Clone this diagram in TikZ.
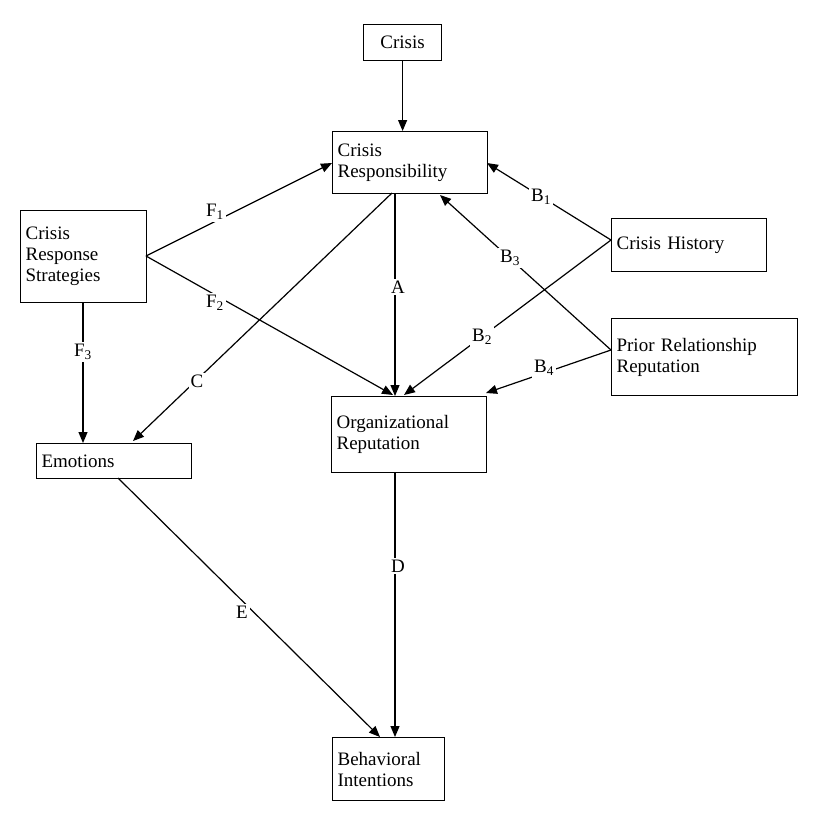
\documentclass[tikz,border=0pt]{standalone}
\usepackage{fontspec}
\setmainfont{Liberation Serif}
\usetikzlibrary{arrows.meta}
\begin{document}
\begin{tikzpicture}[x=1pt,y=-1pt,
  box/.style={draw,line width=1.2pt,anchor=north west,align=left,inner sep=5pt,font=\fontsize{19}{21}\selectfont},
  lab/.style={fill=white,inner sep=2pt,font=\fontsize{19}{21}\selectfont},
  arr/.style={line width=1.2pt,-{Triangle[length=11pt,width=9pt]}},
  ln/.style={line width=1.2pt}]
\useasboundingbox (0,0) rectangle (812,822);
\node[box,minimum width=78pt,minimum height=36pt,align=center] (cr) at (363,24) {Crisis};
\node[box,minimum width=155pt,minimum height=62pt,text width=145pt] (resp) at (332,131) {Crisis\\Responsibility};
\node[box,minimum width=126pt,minimum height=92pt,text width=116pt] (crs) at (20,210) {Crisis\\Response\\Strategies};
\node[box,minimum width=155pt,minimum height=53pt,text width=145pt] (hist) at (611,218) {Crisis History};
\node[box,minimum width=186pt,minimum height=77pt,text width=176pt] (prr) at (611,318) {Prior Relationship\\Reputation\\[-4pt]};
\node[box,minimum width=155pt,minimum height=76pt,text width=145pt] (org) at (331,396) {Organizational\\Reputation};
\node[box,minimum width=155pt,minimum height=35pt,text width=145pt] (emo) at (36,443) {Emotions};
\node[box,minimum width=112pt,minimum height=63pt,text width=102pt] (bi) at (332,737) {Behavioral\\Intentions};
\coordinate (crsR) at (146,256);
\coordinate (histL) at (611,240);
\coordinate (prrL) at (611,350);
\draw[arr] (cr.south) -- (cr.south |- resp.north);
\draw[arr] (crsR) -- (332,163);
\draw[arr] (crsR) -- (393,395);
\draw[arr] (83,302) -- (83,443);
\draw[arr] (392,193) -- (133,441);
\draw[arr] (395,193) -- (395,396);
\draw[arr] (histL) -- (487,163);
\draw[arr] (histL) -- (404,395);
\draw[arr] (prrL) -- (440,195);
\draw[arr] (prrL) -- (486,393);
\draw[arr] (395,472) -- (395,737);
\draw[arr] (118,478) -- (380,737);
\node[lab] (lf1) at (215,212) {F\textsubscript{1}};
\node[lab] (lf2) at (215,303) {F\textsubscript{2}};
\node[lab] (lf3) at (83,352) {F\textsubscript{3}};
\node[lab] (lc) at (197,381) {C};
\node[lab] (la) at (398,287) {A};
\node[lab] (lb1) at (541,197) {B\textsubscript{1}};
\node[lab] (lb2) at (482,337) {B\textsubscript{2}};
\node[lab] (lb3) at (510,258) {B\textsubscript{3}};
\node[lab] (lb4) at (544,368) {B\textsubscript{4}};
\node[lab] (ld) at (398,566) {D};
\node[lab] (le) at (242,612) {E};
\end{tikzpicture}
\end{document}
